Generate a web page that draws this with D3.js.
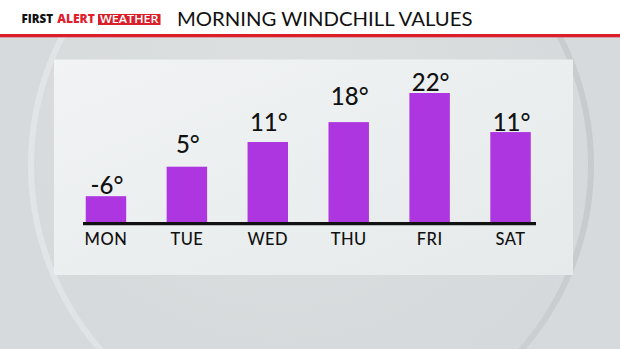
<!DOCTYPE html>
<html>
<head>
<meta charset="utf-8">
<script src="https://cdn.jsdelivr.net/npm/d3@7"></script>
<style>
  html, body { margin: 0; padding: 0; background: #d6dadc; }
  svg { display: block; }
</style>
</head>
<body>
<svg id="chart" width="620" height="349"></svg>
<script>
// ---- data ----
const days = ["MON", "TUE", "WED", "THU", "FRI", "SAT"];
const windchill = [-6, 5, 11, 18, 22, 11];            // printed values (°F)
const barLevelsAsDrawn = [-6, 2, 8.7, 14.1, 22, 11.4]; // bar heights as drawn in the graphic (°F equivalent)
const valueLabels = ["-6°", "5°", "11°", "18°", "22°", "11°"];
const titleText = "MORNING WINDCHILL VALUES";

const W = 620, H = 349;
const svg = d3.select("#chart");
const defs = svg.append("defs");

// background
svg.append("rect").attr("width", W).attr("height", H).attr("fill", "#d6dadc");

// disk with embossed rim
const rimGrad = defs.append("linearGradient").attr("id", "rim")
  .attr("x1", "0").attr("y1", "0").attr("x2", "1").attr("y2", "0");
rimGrad.append("stop").attr("offset", "0").attr("stop-color", "#e1e5e7");
rimGrad.append("stop").attr("offset", "0.5").attr("stop-color", "#dadde0");
rimGrad.append("stop").attr("offset", "1").attr("stop-color", "#c8cbcd");
const diskGrad = defs.append("radialGradient").attr("id", "disk")
  .attr("cx", "0.45").attr("cy", "0.35").attr("r", "0.7");
diskGrad.append("stop").attr("offset", "0").attr("stop-color", "#dde0e1");
diskGrad.append("stop").attr("offset", "1").attr("stop-color", "#d5d8da");
svg.append("circle").attr("cx", 311).attr("cy", 165).attr("r", 280)
  .attr("fill", "url(#disk)").attr("stroke", "url(#rim)").attr("stroke-width", 6);

// header
svg.append("rect").attr("x", 0).attr("y", 0).attr("width", W).attr("height", 34).attr("fill", "#ffffff");
svg.append("rect").attr("x", 0).attr("y", 34).attr("width", W).attr("height", 3.3).attr("fill", "#d81f2a");

// logo
const logo = svg.append("g").attr("font-family", "'Open Sans', Lato, sans-serif")
  .attr("font-weight", 800).attr("font-size", 11.5);
logo.append("text").attr("x", 21.5).attr("y", 23.3).attr("fill", "#111")
  .attr("textLength", 31.5).attr("lengthAdjust", "spacingAndGlyphs").text("FIRST");
logo.append("text").attr("x", 57.3).attr("y", 23.3).attr("fill", "#e0202a")
  .attr("textLength", 37.5).attr("lengthAdjust", "spacingAndGlyphs").text("ALERT");
logo.append("rect").attr("x", 98).attr("y", 14).attr("width", 62.5).attr("height", 11).attr("fill", "#d81f2a");
logo.append("text").attr("x", 100).attr("y", 23.3).attr("fill", "#ffffff").attr("font-weight", 600)
  .attr("textLength", 58.5).attr("lengthAdjust", "spacingAndGlyphs").text("WEATHER");

// title
svg.append("text").attr("x", 177).attr("y", 25.7)
  .attr("font-family", "Lato, 'Open Sans', sans-serif").attr("font-size", 18.5).attr("fill", "#111")
  .attr("textLength", 295.5).attr("lengthAdjust", "spacingAndGlyphs").text(titleText);

// panel
const panelGrad = defs.append("linearGradient").attr("id", "panel")
  .attr("x1", "0").attr("y1", "0").attr("x2", "1").attr("y2", "1");
panelGrad.append("stop").attr("offset", "0").attr("stop-color", "#f1f3f4");
panelGrad.append("stop").attr("offset", "1").attr("stop-color", "#e6eaeb");
svg.append("rect").attr("x", 54).attr("y", 59.5).attr("width", 519).attr("height", 215.5)
  .attr("fill", "url(#panel)");

// scales
const x = d3.scaleBand().domain(days).range([65.5, 551]).paddingInner(0.5).paddingOuter(0.25);
const y = d3.scaleLinear().domain([-13, 22]).range([222, 93]);

// bars
svg.append("g").selectAll("rect").data(days).join("rect")
  .attr("x", d => x(d))
  .attr("width", x.bandwidth())
  .attr("y", (d, i) => y(barLevelsAsDrawn[i]))
  .attr("height", (d, i) => y(-13) - y(barLevelsAsDrawn[i]))
  .attr("fill", "#ad36e1");

// baseline axis
svg.append("line").attr("x1", 83).attr("x2", 536).attr("y1", 223.7).attr("y2", 223.7)
  .attr("stroke", "#111").attr("stroke-width", 3.2);

// value labels
svg.append("g").selectAll("text").data(days).join("text")
  .attr("x", d => x(d) + x.bandwidth() / 2 + 1)
  .attr("y", (d, i) => y(windchill[i]) - 2.3)
  .attr("text-anchor", "middle")
  .attr("font-family", "Lato, 'Open Sans', sans-serif").attr("font-size", 24).attr("font-weight", 500)
  .attr("fill", "#111")
  .text((d, i) => valueLabels[i]);

// category labels
svg.append("g").selectAll("text").data(days).join("text")
  .attr("x", d => x(d) + x.bandwidth() / 2)
  .attr("y", 244.5)
  .attr("text-anchor", "middle")
  .attr("font-family", "Lato, 'Open Sans', sans-serif").attr("font-size", 16.5).attr("font-weight", 500)
  .attr("letter-spacing", 0.5)
  .attr("fill", "#111")
  .text(d => d);
</script>
</body>
</html>
